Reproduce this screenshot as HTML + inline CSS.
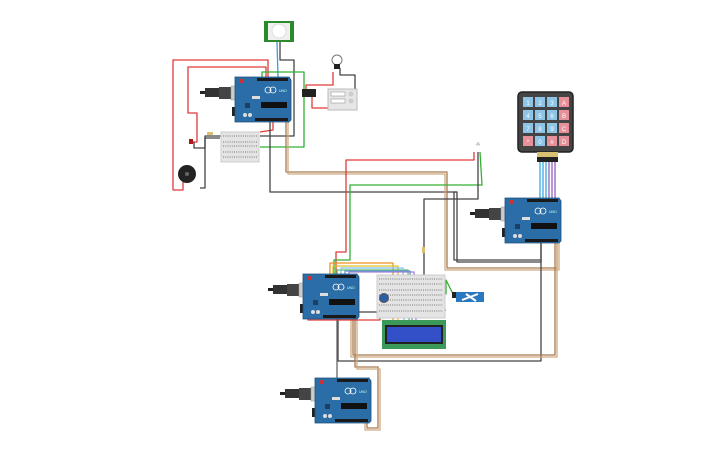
<!DOCTYPE html>
<html><head><meta charset="utf-8"><style>html,body{margin:0;padding:0;background:#fff;}svg{display:block}</style></head>
<body>
<svg width="725" height="453" viewBox="0 0 725 453" xmlns="http://www.w3.org/2000/svg" font-family="Liberation Sans, sans-serif">
<defs>
<g id="ard">
  <path d="M-30 14 h-5 v3 h5 z" fill="#222"/>
  <rect x="-30" y="11" width="14" height="9" fill="#333"/>
  <rect x="-16" y="10" width="14" height="12" fill="#444"/>
  <rect x="-4" y="9" width="10" height="14" fill="#ccc" stroke="#999" stroke-width="0.5"/>
  <rect x="-3" y="30" width="9" height="9" fill="#222"/>
  <path d="M0 0 H54 L56 3 V43 L54 45 H0 Z" fill="#2b6ea7" stroke="#1d4f7c" stroke-width="0.8"/>
  <rect x="22" y="1" width="31" height="3" fill="#1a1a1a"/>
  <rect x="20" y="41" width="33" height="3" fill="#1a1a1a"/>
  <rect x="26" y="25" width="26" height="6" fill="#111"/>
  <rect x="4" y="2" width="4" height="4" fill="#c33"/>
  <circle cx="33" cy="13" r="3" fill="none" stroke="#fff" stroke-width="0.8"/>
  <circle cx="38" cy="13" r="3" fill="none" stroke="#fff" stroke-width="0.8"/>
  <rect x="17" y="19" width="8" height="3" fill="#ddd"/>
  <rect x="10" y="26" width="5" height="5" fill="#1d3f66"/>
  <circle cx="10" cy="38" r="2" fill="#ddd"/><circle cx="15" cy="38" r="2" fill="#ddd"/>
  <text x="44" y="15" font-size="3.5" fill="#cfe">UNO</text>
</g>
</defs>

<g fill="none" stroke-width="1.3" stroke-linejoin="round">
<polyline points="268,77 268,60 173,60 173,190 183,190 183,182" stroke="#e03a3a"/>
<polyline points="266,77 266,67 188,67 188,113 197,113 197,142 192,142" stroke="#e03a3a"/>
<polyline points="277,42 278,77" stroke="#3a9be0"/>
<polyline points="280,42 280,60 294,60 294,136 260,136" stroke="#444"/>
<polyline points="262,77 262,72 304,72 304,147 260,147" stroke="#33b033"/>
<polyline points="273,120 273,130 260,132" stroke="#e03a3a"/>
<polyline points="270,120 270,192 457,192 457,262 541,262 541,242" stroke="#444"/>
<polyline points="286,120 286,172 447,172 447,268 557,268 557,242" stroke="#a87a50"/>
<polyline points="288,120 288,174 445,174 445,270 559,270 559,242" stroke="#d0aa80"/>
<polyline points="194,142 194,148 205,148 205,136 215,136 221,136" stroke="#444"/>
<polyline points="200,188 205,188 205,138 220,138" stroke="#444"/>
<polyline points="310,93 306,93 306,85 333,85 333,72" stroke="#e03a3a"/>
<polyline points="312,97 312,108 340,108" stroke="#e03a3a"/>
<polyline points="340,68 340,75 355,75 355,100" stroke="#444"/>
<polyline points="474,152 474,160 346,160 346,252 336,252 336,274" stroke="#e03a3a"/>
<polyline points="480,152 482,185 350,185 350,260 334,260 334,274" stroke="#33b033"/>
<polyline points="478,152 478,199 424,199 424,278" stroke="#444"/>
<polyline points="457,192 454,192 454,260 541,260" stroke="#444"/>
<polyline points="541,242 541,361 338,361 338,318" stroke="#444"/>
<polyline points="555,242 555,355 353,355 353,318" stroke="#a87a50"/>
<polyline points="557,242 557,357 351,357 351,318" stroke="#d0aa80"/>
<polyline points="337,318 337,378" stroke="#666"/>
<polyline points="355,318 355,367 378,367 378,428 367,428 367,422" stroke="#a87a50"/>
<polyline points="357,318 357,369 380,369 380,430 365,430 365,422" stroke="#d0aa80"/>
<polyline points="330,274 330,263 393,263 393,320" stroke="#f09020"/>
<polyline points="333,274 333,266 398,266 398,320" stroke="#e0c020"/>
<polyline points="337,274 337,270 408,270 409,320" stroke="#60c060"/>
<polyline points="341,274 341,268 403,268 404,320" stroke="#80c0f0"/>
<polyline points="345,274 345,271 410,271 412,320" stroke="#5a98d8"/>
<polyline points="349,274 349,272 414,272 416,320" stroke="#a080d8"/>
<polyline points="308,318 308,320 380,320 380,312" stroke="#e03a3a"/>
<polyline points="355,312 380,312 381,305" stroke="#444"/>
<polyline points="427,282 427,294 446,294 446,280 452,292 456,295" stroke="#33b033"/>
<polyline points="437,280 438,310 446,310" stroke="#e03a3a"/>
<polyline points="540,162 540,198" stroke="#3aa7e0"/>
<polyline points="543,162 543,198" stroke="#3aa7e0"/>
<polyline points="546,162 546,198" stroke="#3aa7e0"/>
<polyline points="549,162 549,198" stroke="#9060c0"/>
<polyline points="552,162 552,198" stroke="#9060c0"/>
<polyline points="555,162 555,198" stroke="#9060c0"/>
</g>

<rect x="264" y="21" width="30" height="21" fill="#2c8a2c"/>
<rect x="268" y="23" width="22" height="17" fill="#f0f0f0"/>
<circle cx="279" cy="31" r="7" fill="#fff" stroke="#ddd"/>
<circle cx="337" cy="60" r="5" fill="#fff" stroke="#777"/>
<rect x="334" y="64" width="6" height="5" fill="#222"/>
<rect x="302" y="89" width="14" height="8" fill="#222"/>
<rect x="328" y="89" width="29" height="21" fill="#e6e6e6" stroke="#bbb"/>
<rect x="331" y="92" width="14" height="4" fill="#fff" stroke="#888" stroke-width="0.5"/>
<rect x="331" y="99" width="14" height="4" fill="#fff" stroke="#888" stroke-width="0.5"/>
<circle cx="351" cy="94" r="2.5" fill="#ccc"/><circle cx="351" cy="101" r="2.5" fill="#ccc"/>
<rect x="221" y="132" width="38" height="30" fill="#e4e4e4" stroke="#ccc"/>
<g stroke="#777" stroke-width="1" stroke-dasharray="1 1.2"><line x1="223" y1="136" x2="257" y2="136"/><line x1="223" y1="142" x2="257" y2="142"/><line x1="223" y1="146" x2="257" y2="146"/><line x1="223" y1="152" x2="257" y2="152"/><line x1="223" y1="157" x2="257" y2="157"/></g>
<rect x="189" y="139" width="4" height="5" fill="#b01818"/>
<rect x="207" y="132" width="6" height="3" fill="#d8c070"/>
<circle cx="187" cy="174" r="9" fill="#222"/><circle cx="187" cy="174" r="2" fill="#666"/>
<path d="M476 145 l2 -3 l2 3 z" fill="#ddd" stroke="#aaa" stroke-width="0.5"/>
<rect x="518" y="92" width="55" height="60" rx="4" fill="#444" stroke="#222" stroke-width="1.5"/>
<g>
<rect x="523" y="97" width="10" height="10" fill="#8ec4e6"/><rect x="535" y="97" width="10" height="10" fill="#8ec4e6"/><rect x="547" y="97" width="10" height="10" fill="#8ec4e6"/><rect x="559" y="97" width="10" height="10" fill="#e8909a"/>
<rect x="523" y="110" width="10" height="10" fill="#8ec4e6"/><rect x="535" y="110" width="10" height="10" fill="#8ec4e6"/><rect x="547" y="110" width="10" height="10" fill="#8ec4e6"/><rect x="559" y="110" width="10" height="10" fill="#e8909a"/>
<rect x="523" y="123" width="10" height="10" fill="#8ec4e6"/><rect x="535" y="123" width="10" height="10" fill="#8ec4e6"/><rect x="547" y="123" width="10" height="10" fill="#8ec4e6"/><rect x="559" y="123" width="10" height="10" fill="#e8909a"/>
<rect x="523" y="136" width="10" height="10" fill="#e8909a"/><rect x="535" y="136" width="10" height="10" fill="#8ec4e6"/><rect x="547" y="136" width="10" height="10" fill="#e8909a"/><rect x="559" y="136" width="10" height="10" fill="#e8909a"/>
</g>
<g font-size="6" fill="#fff" text-anchor="middle">
<text x="528" y="105">1</text><text x="540" y="105">2</text><text x="552" y="105">3</text><text x="564" y="105">A</text>
<text x="528" y="118">4</text><text x="540" y="118">5</text><text x="552" y="118">6</text><text x="564" y="118">B</text>
<text x="528" y="131">7</text><text x="540" y="131">8</text><text x="552" y="131">9</text><text x="564" y="131">C</text>
<text x="528" y="144">*</text><text x="540" y="144">0</text><text x="552" y="144">#</text><text x="564" y="144">D</text>
</g>
<rect x="537" y="152" width="21" height="6" fill="#d8c070"/>
<rect x="537" y="157" width="21" height="5" fill="#222"/>
<rect x="377" y="275" width="68" height="43" fill="#e4e4e4" stroke="#ccc"/>
<g stroke="#777" stroke-width="1" stroke-dasharray="1 1.2"><line x1="379" y1="279" x2="443" y2="279"/><line x1="379" y1="284" x2="443" y2="284"/><line x1="379" y1="290" x2="443" y2="290"/><line x1="379" y1="295" x2="443" y2="295"/><line x1="379" y1="300" x2="443" y2="300"/><line x1="379" y1="305" x2="443" y2="305"/><line x1="379" y1="311" x2="443" y2="311"/></g>
<circle cx="384" cy="298" r="4.5" fill="#2a5fa8" stroke="#555"/>
<rect x="422" y="247" width="3" height="6" fill="#d8c070"/>
<rect x="452" y="292" width="4" height="6" fill="#222"/>
<rect x="456" y="292" width="28" height="10" fill="#2a78c0"/>
<path d="M462 300 L478 294 M466 294 L476 301" stroke="#fff" stroke-width="2"/>
<rect x="382" y="320" width="64" height="29" fill="#3b9a5a"/>
<rect x="385" y="325" width="58" height="19" fill="#222"/>
<rect x="387" y="327" width="54" height="15" fill="#3350c8"/>

<use href="#ard" x="235" y="77"/>
<use href="#ard" x="505" y="198"/>
<use href="#ard" x="303" y="274"/>
<use href="#ard" x="315" y="378"/>
</svg>
</body></html>
